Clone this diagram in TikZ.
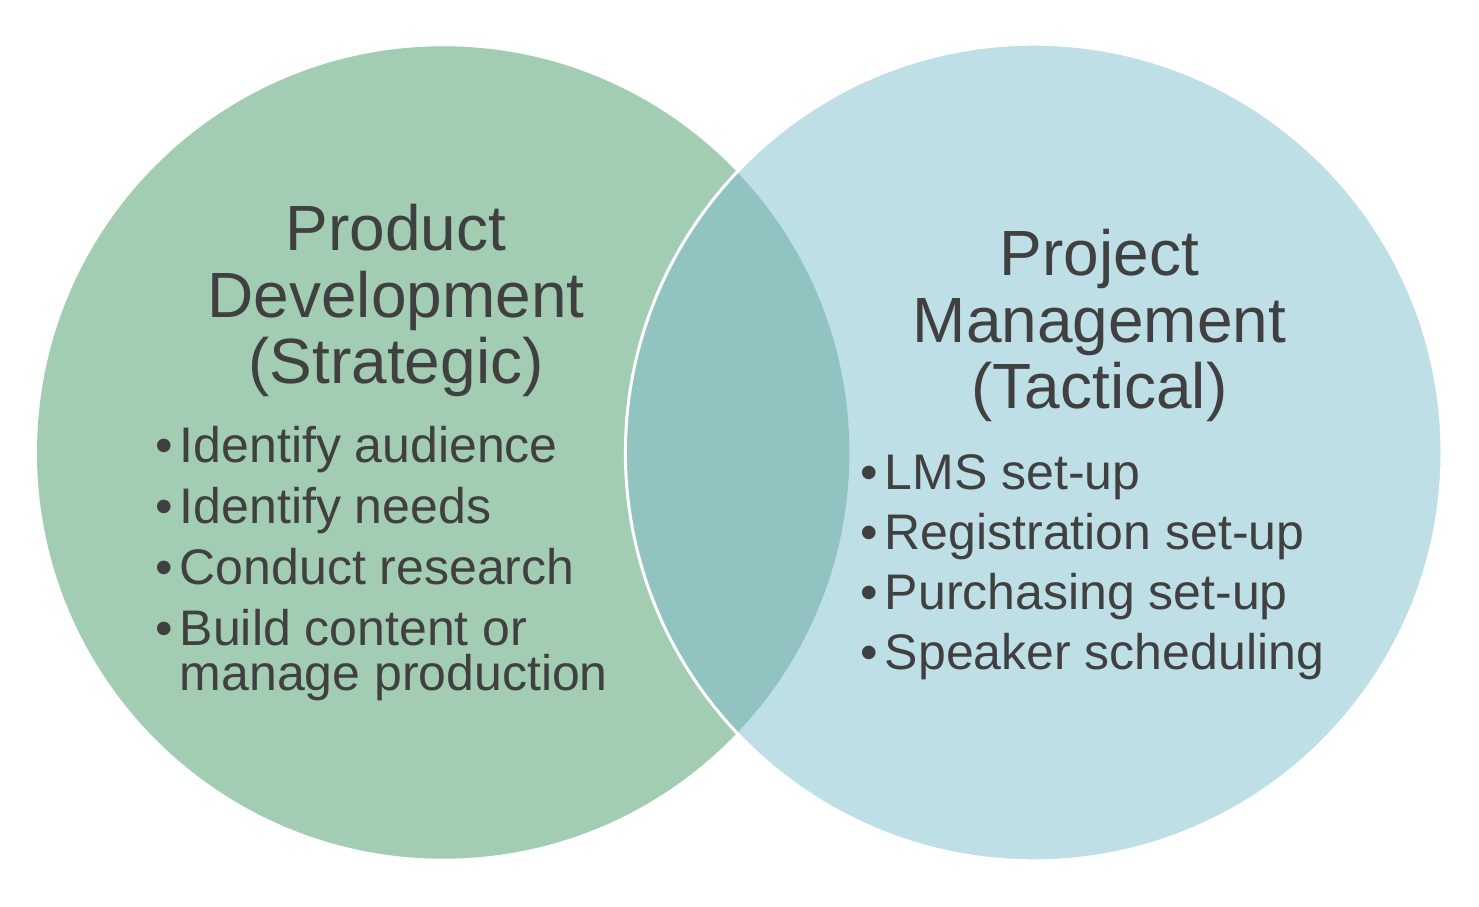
\documentclass[tikz,border=0pt]{standalone}
\usepackage{fontspec}
\setmainfont{Liberation Sans}
\usepackage{tikz}
\definecolor{prodgreen}{HTML}{A2CDB2}
\definecolor{projblue}{HTML}{BEDFE6}
\definecolor{overlapteal}{HTML}{91C4C0}
\definecolor{textgray}{HTML}{404040}
\newcommand{\itemdot}{•\kern0.14cm}
\tikzset{
  heading/.style={anchor=base, align=center, text=textgray, inner sep=0pt,
    font=\fontsize{36.4pt}{38.1pt}\selectfont},
  bulletitem/.style={anchor=base west, align=left, text=textgray, inner sep=0pt,
    font=\fontsize{28.45pt}{25.6pt}\selectfont}
}

\begin{document}
\begin{tikzpicture}[line cap=round, line join=round]
      \useasboundingbox (0,0) rectangle (29.58,18.12);
      % the two circles and their overlap
      \fill [prodgreen] (8.864,9.07) circle (8.124cm);
      \fill [projblue] (20.674,9.07) circle (8.166cm);
      \begin{scope}
        \clip (8.864,9.07) circle (8.124cm);
        \fill [overlapteal] (20.674,9.07) circle (8.166cm);
      \end{scope}
      \draw [white, line width=0.06cm] (20.674,9.07) circle (8.166cm);
      % headings (base = last line)
      \node [heading] (prodtitle) at (7.92,10.44) {Product\\Development\\(Strategic)};
      \node [heading] (projtitle) at (21.99,9.94) {Project\\Management\\(Tactical)};
      % left list
      \node [bulletitem] (prod1) at (3.10,8.86) {\itemdot Identify audience};
      \node [bulletitem] (prod2) at (3.10,7.64) {\itemdot Identify needs};
      \node [bulletitem] (prod3) at (3.10,6.42) {\itemdot Conduct research};
      \node [bulletitem] (prod4) at (3.10,4.32) {\itemdot Build content or\\\phantom{\itemdot}manage production};
      % right list
      \node [bulletitem] (proj1) at (17.20,8.32) {\itemdot LMS set-up};
      \node [bulletitem] (proj2) at (17.20,7.12) {\itemdot Registration set-up};
      \node [bulletitem] (proj3) at (17.20,5.92) {\itemdot Purchasing set-up};
      \node [bulletitem] (proj4) at (17.20,4.72) {\itemdot Speaker scheduling};
\end{tikzpicture}
\end{document}
